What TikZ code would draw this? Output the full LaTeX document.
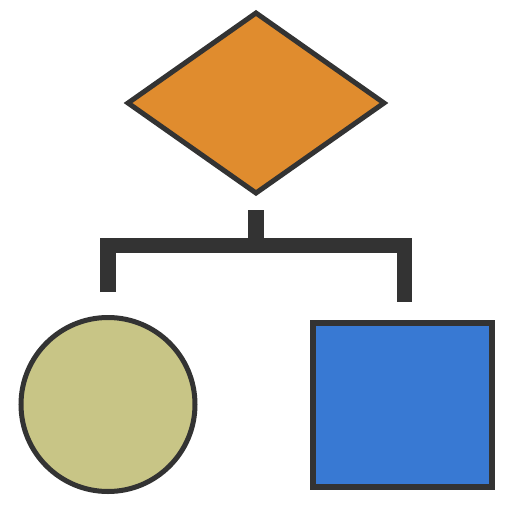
\documentclass[tikz,border=0pt]{standalone}
\usetikzlibrary{shapes.geometric}
\definecolor{edge}{HTML}{333333}
\definecolor{dorange}{HTML}{E08C2E}
\definecolor{dolive}{HTML}{C8C586}
\definecolor{dblue}{HTML}{3879D3}
\begin{document}
\begin{tikzpicture}[x=1pt,y=-1pt,
  shapebox/.style={draw=edge,inner sep=0pt,outer sep=0pt},
  bracket/.style={draw=edge,line cap=butt,line join=miter}]
\useasboundingbox (0,0) rectangle (512,512);
\node[shapebox,diamond,fill=dorange,line width=5pt,minimum width=256pt,minimum height=180pt] (dec) at (256,103) {};
\node[shapebox,circle,fill=dolive,line width=5pt,minimum size=174pt] (circ) at (108,404.5) {};
\node[shapebox,rectangle,fill=dblue,line width=6pt,minimum width=179pt,minimum height=164pt] (sq) at (402.5,405) {};
\coordinate (stemtop) at (256,210);
\coordinate (stembot) at (256,245);
\coordinate (lend) at (108,292);
\coordinate (lcorner) at (108,245.5);
\coordinate (rcorner) at (404.7,245.5);
\coordinate (rend) at (404.7,302.3);
\draw[bracket,line width=16pt] (stemtop) -- (stembot);
\draw[bracket,line width=15.5pt] (lend) -- (lcorner) -- (rcorner) -- (rend);
\end{tikzpicture}
\end{document}
